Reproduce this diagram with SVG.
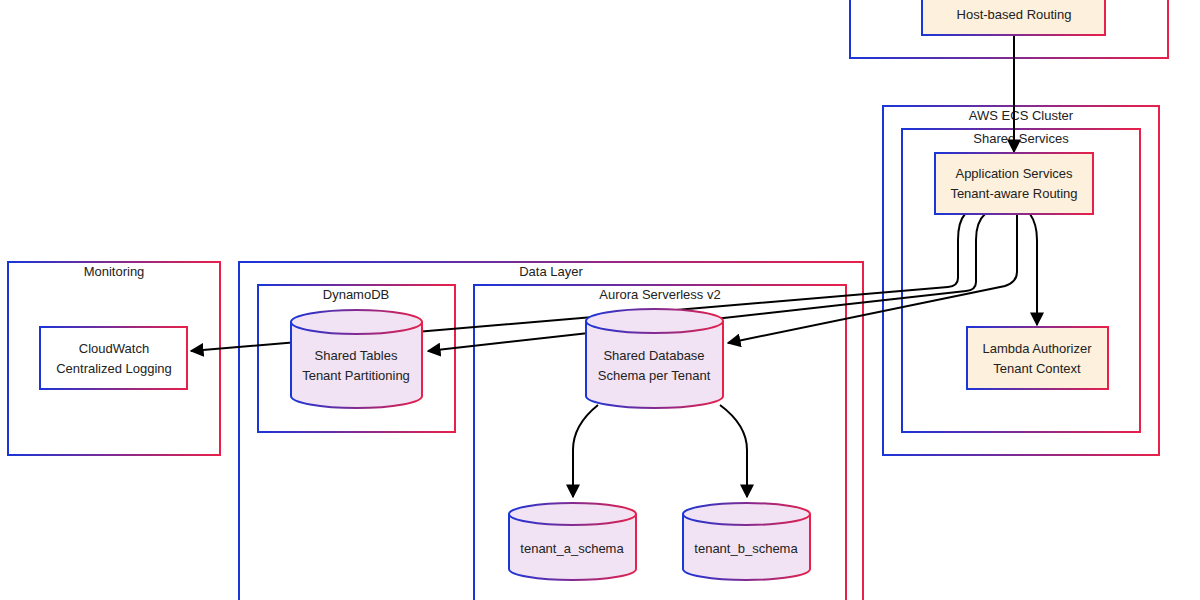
<svg xmlns="http://www.w3.org/2000/svg" width="1200" height="600" viewBox="0 0 1200 600">
<defs>
<linearGradient id="g" x1="0" y1="0" x2="1" y2="0"><stop offset="0" stop-color="#1a35d8"/><stop offset="1" stop-color="#e8204a"/></linearGradient>
<marker id="a" viewBox="0 0 10 10" refX="9" refY="5" markerWidth="7" markerHeight="7" orient="auto"><path d="M0,0 L10,5 L0,10 z" fill="#000"/></marker>
<style>
text{font-family:"Liberation Sans",Arial,sans-serif;font-size:13px;fill:#222;text-anchor:middle}
.c{fill:none;stroke:url(#g);stroke-width:2}
.n{fill:#fdf0dc;stroke:url(#g);stroke-width:2}
.cy{fill:#f1e2f4;stroke:url(#g);stroke-width:2}
.e{fill:none;stroke:#000;stroke-width:2;marker-end:url(#a)}
</style>
</defs>
<rect fill="#fff" width="1200" height="600"/>
<g id="containers">
<rect class="c" x="850" y="-10" width="318" height="68"/>
<rect class="c" x="883" y="106" width="276" height="349"/><text x="1021" y="120">AWS ECS Cluster</text>
<rect class="c" x="902" y="129" width="238" height="303"/><text x="1021" y="143">Shared Services</text>
<rect class="c" x="8" y="262" width="212" height="193"/><text x="114" y="276">Monitoring</text>
<rect class="c" x="239" y="262" width="624" height="350"/><text x="551" y="276">Data Layer</text>
<rect class="c" x="258" y="285" width="197" height="147"/><text x="356" y="299">DynamoDB</text>
<rect class="c" x="474" y="285" width="372" height="330"/><text x="660" y="299">Aurora Serverless v2</text>
</g>
<g id="connectors">
<path class="e" d="M1014,35 L1014,152"/>
<path class="e" d="M965,214 Q958,222 958,240 L958,278 Q958,286 948,287 L191,351"/>
<path class="e" d="M985,214 Q976,222 976,240 L976,282 Q976,290 966,291 L428,351"/>
<path class="e" d="M1017,214 L1017,272 Q1017,282 1005,286 L728,343"/>
<path class="e" d="M1030,214 Q1037,224 1037,240 L1037,325"/>
<path class="e" d="M598,405 Q573,425 573,450 L573,497"/>
<path class="e" d="M720,405 Q747,425 747,450 L747,497"/>
</g>
<g id="lb"><rect class="n" x="922" y="-20" width="183" height="55"/><text x="1014" y="19">Host-based Routing</text></g>
<g id="app"><rect class="n" x="935" y="153" width="158" height="61"/><text x="1014" y="178">Application Services</text><text x="1014" y="198">Tenant-aware Routing</text></g>
<g id="lambda"><rect class="n" x="967" y="327" width="141" height="62"/><text x="1037" y="353">Lambda Authorizer</text><text x="1037" y="373">Tenant Context</text></g>
<g id="cw"><rect fill="#fff" stroke="url(#g)" stroke-width="2" x="40" y="327" width="147" height="62"/><text x="114" y="353">CloudWatch</text><text x="114" y="373">Centralized Logging</text></g>
<g id="ddb"><path class="cy" d="M291,322 A65.5,12 0 0 1 422,322 L422,396 A65.5,12 0 0 1 291,396 Z"/><path class="cy" d="M291,322 A65.5,12 0 0 0 422,322"/><text x="356" y="360">Shared Tables</text><text x="356" y="380">Tenant Partitioning</text></g>
<g id="sdb"><path class="cy" d="M586,321 A68.5,12 0 0 1 723,321 L723,396 A68.5,12 0 0 1 586,396 Z"/><path class="cy" d="M586,321 A68.5,12 0 0 0 723,321"/><text x="654" y="360">Shared Database</text><text x="654" y="380">Schema per Tenant</text></g>
<g id="ta"><path class="cy" d="M509,514 A63.5,11 0 0 1 636,514 L636,569 A63.5,11 0 0 1 509,569 Z"/><path class="cy" d="M509,514 A63.5,11 0 0 0 636,514"/><text x="572" y="553">tenant_a_schema</text></g>
<g id="tb"><path class="cy" d="M683,514 A63.5,11 0 0 1 810,514 L810,569 A63.5,11 0 0 1 683,569 Z"/><path class="cy" d="M683,514 A63.5,11 0 0 0 810,514"/><text x="746" y="553">tenant_b_schema</text></g>
</svg>
